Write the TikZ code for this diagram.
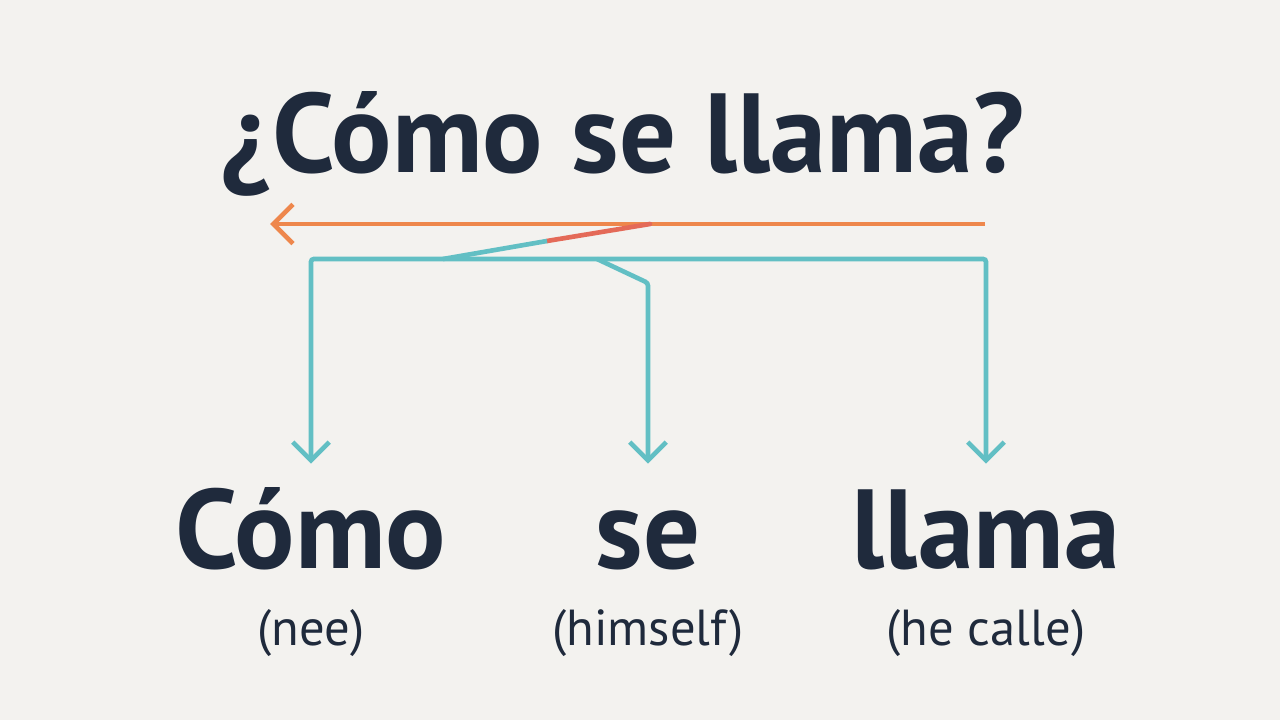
\documentclass[tikz,border=0pt]{standalone}
\usepackage{fontspec}
\setmainfont{PT Sans}
\usetikzlibrary{arrows.meta}
\definecolor{ink}{HTML}{1F2A3C}
\definecolor{paper}{HTML}{F3F2EF}
\definecolor{tealline}{HTML}{62BFC4}
\definecolor{orangeline}{HTML}{EE874C}
\definecolor{redline}{HTML}{E46A58}
\tikzstyle{title} = [font=\fontsize{80}{80}\selectfont\bfseries, text=ink, inner sep=0pt, anchor=base]
\tikzstyle{word} = [font=\fontsize{80}{80}\selectfont\bfseries, text=ink, inner sep=0pt, anchor=base, text height=48pt]
\tikzstyle{gloss} = [font=\fontsize{36}{36}\selectfont, text=ink, inner sep=0pt, anchor=base]
\tikzstyle{tarrow} = [tealline, line width=3.3pt, rounded corners=2pt, -{Straight Barb[length=13pt,width=26pt]}, shorten >=26pt]
\tikzstyle{oarrow} = [orangeline, line width=3.3pt, -{Straight Barb[length=14pt,width=28pt]}]

\begin{document}
\begin{tikzpicture}[x=0.025cm, y=-0.025cm]
\fill[paper] (0,0) rectangle (1280,720);

\node (title) [title] at (623,173) {¿Cómo se llama?};

\node (cmo) [word] at (311,568) {Cómo};
\node (se) [word] at (648,568) {se};
\node (llama) [word] at (986,568) {llama};
\node (g1) [gloss] at (311,645) {(nee)};
\node (g2) [gloss] at (648,645) {(himself)};
\node (g3) [gloss] at (986,645) {(he calle)};

\coordinate (oright) at (985,224);
\coordinate (oleft) at (270,224);
\coordinate (fork) at (650,224);
\coordinate (blend) at (547,241);
\coordinate (join) at (443,259);
\coordinate (split) at (597,259);
\coordinate (bend) at (647,283);

\draw [oarrow] (oright) -- (oleft);
\draw [redline, line width=3.3pt, line cap=round] (fork) -- (blend);
\draw [tealline, line width=3.3pt] (blend) -- (join);
\draw [tarrow] (join) -- (cmo.north |- join) -- (cmo.north);
\draw [tarrow] (join) -- (llama.north |- join) -- (llama.north);
\draw [tarrow] (split) -- (se.north |- bend) -- (se.north);

\end{tikzpicture}
\end{document}
